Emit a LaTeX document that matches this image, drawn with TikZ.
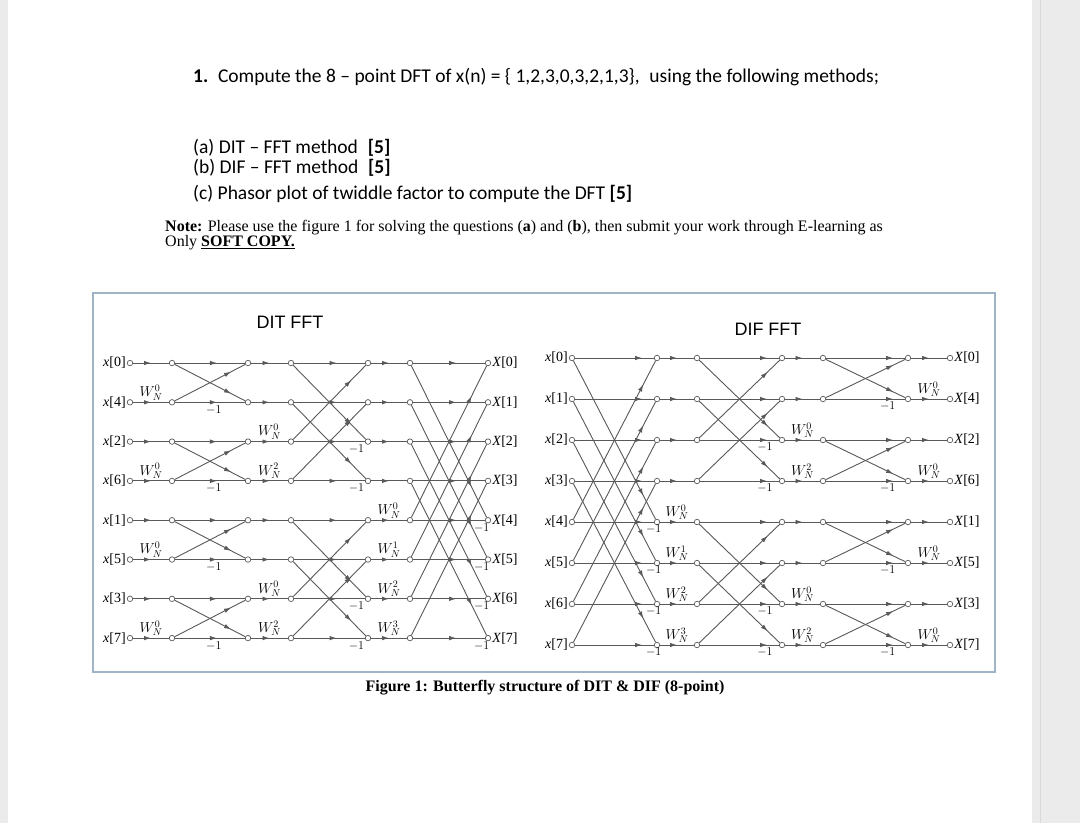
\documentclass[tikz,border=0pt]{standalone}
\usepackage{fontspec}
\setmainfont{Liberation Serif}
\newfontfamily\calib{Carlito}
\newfontfamily\arialf{Liberation Sans}
\usetikzlibrary{decorations.markings,arrows.meta,calc}
\begin{document}
\begin{tikzpicture}[x=1pt,y=-1pt,
  pt/.style={circle,draw=black!65,fill=white,inner sep=0pt,minimum size=5.5pt,line width=0.7pt},
  wire/.style={draw=black!65,line width=0.9pt},
  arr/.style={postaction={decorate},decoration={markings,mark=at position #1 with {\arrow{Latex[length=7pt,width=4.5pt]}}}},
  arr/.default=0.5,
  lbl/.style={font=\fontsize{14}{14}\selectfont,inner sep=1pt},
  wl/.style={font=\fontsize{14}{14}\selectfont,inner sep=0pt,above=2pt},
  ml/.style={font=\fontsize{12}{12}\selectfont,inner sep=0pt,below=3pt},
  txt/.style={anchor=west,inner sep=0pt,font=\calib\fontsize{19.5}{19.5}\selectfont}]
\useasboundingbox (0,0) rectangle (1080,823);
\fill[black!8] (0,0) rectangle (1080,823);
\fill[white] (8,0) rectangle (1032,823);
\draw[black!15,line width=1pt] (1040,0) -- (1040,823);
% text
\node[txt] (q1) at (193,77) {\textbf{1.}\enspace Compute the 8 – point DFT of x(n) = \{ 1,2,3,0,3,2,1,3\},\enspace using the following methods;};
\node[txt] (qa) at (193,148) {(a) DIT – FFT method\enspace\textbf{[5]}};
\node[txt] (qb) at (193,168) {(b) DIF – FFT method\enspace\textbf{[5]}};
\node[txt] (qc) at (193,194) {(c) Phasor plot of twiddle factor to compute the DFT \textbf{[5]}};
\node[anchor=west,inner sep=0pt,font=\fontsize{16}{16}\selectfont] (note) at (165,228) {\textbf{Note:} Please use the figure 1 for solving the questions (\textbf{a}) and (\textbf{b}), then submit your work through E-learning as};
\node[anchor=west,inner sep=0pt,font=\fontsize{16}{16}\selectfont] (note2) at (165,243) {Only \textbf{\underline{SOFT COPY.}}};
% frame
\draw[draw={rgb,255:red,160;green,180;blue,200},line width=1.5pt] (93,293) rectangle (995,672);
\node[font=\arialf\fontsize{18}{18}\selectfont] (dit) at (290,322) {DIT FFT};
\node[font=\arialf\fontsize{18}{18}\selectfont] (dif) at (768,329) {DIF FFT};
\node[font=\bfseries\fontsize{16}{16}\selectfont] (cap) at (545,688) {Figure 1: Butterfly structure of DIT \& DIF (8-point)};
% ---------- DIT nodes
\foreach \c/\x in {0/130,1/172,2/248,3/291,4/368,5/410,6/488}
  \foreach \r in {0,...,7}
    \node[pt] (T\c-\r) at (\x,{363+39.3*\r}) {};
\foreach \c in {0,2,4} \foreach \r in {0,...,7}
  \draw[wire,arr] (T\c-\r) -- (T\the\numexpr\c+1\relax-\r);
\foreach \c/\d in {1/1,3/2,5/4} \foreach \r in {0,...,7} {
  \pgfmathtruncatemacro\p{mod(floor(\r/\d),2)==0 ? \r+\d : \r-\d}
  \pgfmathtruncatemacro\n{\c+1}
  \draw[wire,arr=0.6] (T\c-\r) -- (T\n-\r);
  \draw[wire,arr=0.8] (T\c-\r) -- (T\n-\p);
}
\foreach \r/\k in {0/0,1/4,2/2,3/6,4/1,5/5,6/3,7/7} {
  \node[lbl,left] (ti\r) at (T0-\r.west) {\textit{x}[\k]};
  \node[lbl,right] (to\r) at (T6-\r.east) {\textit{X}[\r]};
}
\foreach \r in {1,3,5,7} {
  \node[wl] (tw1\r) at ($(T0-\r)!0.5!(T1-\r)$) {$W_N^0$};
  \node[ml] (tm1\r) at ($(T1-\r)!0.55!(T2-\r)$) {$-1$};
}
\foreach \r/\e in {2/0,3/2,6/0,7/2} {
  \node[wl] (tw2\r) at ($(T2-\r)!0.5!(T3-\r)$) {$W_N^\e$};
  \node[ml] (tm2\r) at ($(T3-\r)!0.85!(T4-\r)$) {$-1$};
}
\foreach \r/\e in {4/0,5/1,6/2,7/3} {
  \node[wl] (tw3\r) at ($(T4-\r)!0.5!(T5-\r)$) {$W_N^\e$};
  \node[ml] (tm3\r) at ($(T5-\r)!0.92!(T6-\r)$) {$-1$};
}
% ---------- DIF nodes
\foreach \c/\x in {0/572,1/657,2/697,3/782,4/823,5/908,6/950}
  \foreach \r in {0,...,7}
    \node[pt] (F\c-\r) at (\x,{358+41*\r}) {};
\foreach \c in {1,3,5} \foreach \r in {0,...,7}
  \draw[wire,arr] (F\c-\r) -- (F\the\numexpr\c+1\relax-\r);
\foreach \c/\d in {0/4,2/2,4/1} \foreach \r in {0,...,7} {
  \pgfmathtruncatemacro\p{mod(floor(\r/\d),2)==0 ? \r+\d : \r-\d}
  \pgfmathtruncatemacro\n{\c+1}
  \draw[wire,arr=0.85] (F\c-\r) -- (F\n-\r);
  \draw[wire,arr=0.85] (F\c-\r) -- (F\n-\p);
}
\foreach \r/\k in {0/0,1/4,2/2,3/6,4/1,5/5,6/3,7/7} {
  \node[lbl,left] (fi\r) at (F0-\r.west) {\textit{x}[\r]};
  \node[lbl,right] (fo\r) at (F6-\r.east) {\textit{X}[\k]};
}
\foreach \r/\e in {4/0,5/1,6/2,7/3} {
  \node[wl] (fw1\r) at ($(F1-\r)!0.5!(F2-\r)$) {$W_N^\e$};
  \node[ml] (fm1\r) at ($(F0-\r)!0.96!(F1-\r)$) {$-1$};
}
\foreach \r/\e in {2/0,3/2,6/0,7/2} {
  \node[wl] (fw2\r) at ($(F3-\r)!0.5!(F4-\r)$) {$W_N^\e$};
  \node[ml] (fm2\r) at ($(F2-\r)!0.8!(F3-\r)$) {$-1$};
}
\foreach \r in {1,3,5,7} {
  \node[wl] (fw3\r) at ($(F5-\r)!0.5!(F6-\r)$) {$W_N^0$};
  \node[ml] (fm3\r) at ($(F4-\r)!0.76!(F5-\r)$) {$-1$};
}
\end{tikzpicture}
\end{document}
